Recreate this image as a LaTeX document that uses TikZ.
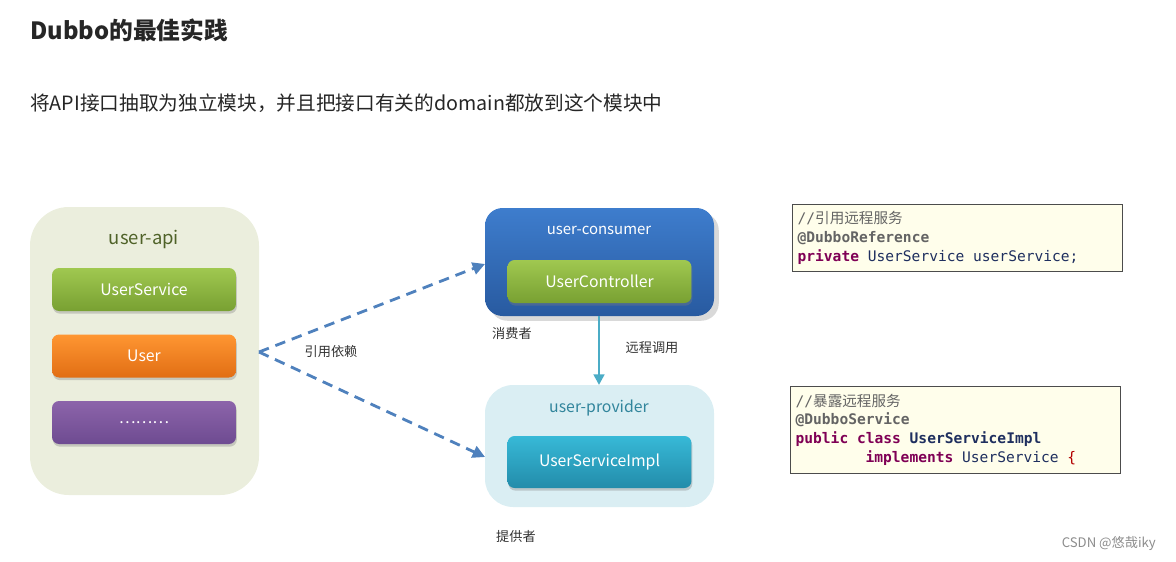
\documentclass[tikz,border=0pt]{standalone}
\usepackage{fontspec}
\setmainfont{Noto Sans CJK SC}
\newfontfamily\cjk{Noto Sans CJK SC}
\setmonofont{DejaVu Sans Mono}
\usetikzlibrary{arrows.meta,shadows}
\definecolor{kw}{HTML}{7F0055}
\definecolor{ty}{HTML}{1F2F5F}
\definecolor{an}{HTML}{646464}
\newcommand\Csp{\hspace*{0.6em}}
\begin{document}
\begin{tikzpicture}[x=0.02cm,y=-0.02cm,
 box/.style={draw=none,rounded corners=4pt,minimum width=3.68cm,minimum height=0.86cm,text=white,font=\fontsize{9}{10}\selectfont,drop shadow={opacity=0.35,shadow xshift=0.5pt,shadow yshift=-1.5pt}},
 lbl/.style={font=\fontsize{7.5}{9}\selectfont,text=black!80},
 code/.style={draw=black!70,fill=yellow!8,anchor=north west,inner sep=3pt,align=left,font=\ttfamily\bfseries\fontsize{8.3}{10.8}\selectfont,text width=6.4cm},
 dep/.style={draw={rgb,255:red,79;green,129;blue,189},line width=1.6pt,dash pattern=on 6pt off 4pt,-{Triangle[length=7pt,width=7pt]}}]
\useasboundingbox (0,0) rectangle (1176,561);
\node[anchor=west,font=\bfseries\fontsize{13.5}{15}\selectfont,text=black!85] (title) at (24,30) {Dubbo的最佳实践};
\node[anchor=west,font=\fontsize{11.2}{13}\selectfont,text=black!85] (sub) at (24,103) {将API接口抽取为独立模块，并且把接口有关的domain都放到这个模块中};
% api panel
\fill[fill={rgb,255:red,235;green,238;blue,221},rounded corners=22pt] (30,207) rectangle (259,495);
\coordinate (api) at (259,352);
\node[text={rgb,255:red,79;green,98;blue,40},font=\fontsize{10.5}{12}\selectfont] (apit) at (144,239) {user-api};
\node[box,top color={rgb,255:red,160;green,200;blue,80},bottom color={rgb,255:red,120;green,160;blue,50}] (us) at (144,289.5) {UserService};
\node[box,top color={rgb,255:red,255;green,150;blue,50},bottom color={rgb,255:red,225;green,110;blue,20}] (u) at (144,356) {User};
\node[box,top color={rgb,255:red,140;green,100;blue,170},bottom color={rgb,255:red,110;green,75;blue,145}] (dots) at (144,422.5) {………};
% consumer
\shade[top color={rgb,255:red,62;green,125;blue,205},bottom color={rgb,255:red,40;green,90;blue,160},rounded corners=10pt,drop shadow={opacity=0.3}] (485,208) rectangle (714,316);
\coordinate (cb) at (599,316);
\node[text=white,font=\fontsize{8.5}{10}\selectfont] (ct) at (599,230) {user-consumer};
\node[box,top color={rgb,255:red,160;green,200;blue,80},bottom color={rgb,255:red,120;green,160;blue,50}] (uc) at (599.5,281.5) {UserController};
% provider
\fill[fill={rgb,255:red,218;green,238;blue,243},rounded corners=16pt] (485,385) rectangle (714,507);
\coordinate (pt) at (599,385);
\node[text={rgb,255:red,49;green,133;blue,156},font=\fontsize{9}{10}\selectfont] (ptt) at (599,408) {user-provider};
\node[box,minimum height=1.04cm,top color={rgb,255:red,55;green,185;blue,215},bottom color={rgb,255:red,35;green,140;blue,170}] (usi) at (599.5,462) {UserServiceImpl};
% arrows
\coordinate (c1) at (485,264);
\coordinate (p1) at (485,457);
\draw[dep] (api) -- (c1);
\draw[dep] (api) -- (p1);
\draw[draw={rgb,255:red,75;green,172;blue,198},line width=1.6pt,-{Triangle[length=6pt,width=6pt]}] (cb) -- (pt);
\node[lbl] (l1) at (331,352) {引用依赖};
\node[lbl] (l2) at (512,333) {消费者};
\node[lbl] (l3) at (516,536) {提供者};
\node[lbl] (l4) at (652,348) {远程调用};
% code
\node[code,minimum height=1.34cm] (cd1) at (792,204) {{\mdseries\color{an}//\cjk 引用远程服务}\\{\color{an}@DubboReference}\\{\color{kw}private}\Csp{\mdseries\color{ty}UserService\Csp userService;}};
\node[code,minimum height=1.74cm] (cd2) at (790,386) {{\mdseries\color{an}//\cjk 暴露远程服务}\\{\color{an}@DubboService}\\{\color{kw}public\Csp class}\Csp{\color{ty}UserServiceImpl}\\\hspace*{4.8em}{\color{kw}implements}\Csp{\mdseries\color{ty}UserService}\Csp{\mdseries\color{red!70!black}\{}};
\node[anchor=east,font=\fontsize{7.5}{9}\selectfont,text=black!45] (wm) at (1162,543) {CSDN @悠哉iky};
\end{tikzpicture}
\end{document}
